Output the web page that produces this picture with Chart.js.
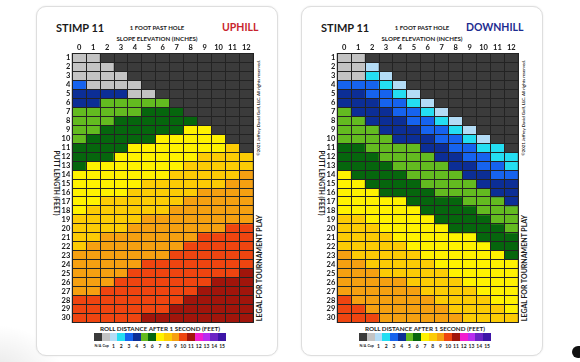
<!DOCTYPE html>
<html>
<head>
<meta charset="utf-8">
<script src="https://cdn.jsdelivr.net/npm/chart.js@4.4.1/dist/chart.umd.min.js"></script>
<style>
html,body{margin:0;padding:0;background:#fff;}
body{width:580px;height:362px;position:relative;overflow:hidden;font-family:Lato,"Open Sans",sans-serif;}
.card{position:absolute;top:6px;width:242px;height:350px;border:1px solid #dedede;border-radius:10px;box-shadow:0 0 2px rgba(0,0,0,.10);background:#fff;box-sizing:border-box;}
.t{position:absolute;white-space:nowrap;font-weight:700;color:#1b1b1b;line-height:1;}
.sw{position:absolute;height:8px;}
.cv{position:absolute;top:40px;width:220px;height:290px;}
.shade{position:absolute;left:-40px;top:320px;width:110px;height:80px;background:radial-gradient(ellipse at 30% 70%,rgba(0,0,0,.10),rgba(0,0,0,0) 65%);}
.blob{position:absolute;left:572px;top:346px;width:12px;height:12px;border-radius:6px 2px 6px 6px;background:#111;}
</style>
</head>
<body>
<div class="shade"></div>
<div class="blob"></div>
<script>
// ---- data ----
const N = -1;   // N/A
const C = 0;    // Cup
const columns = ['0','1','2','3','4','5','6','7','8','9','10','11','12'];
const rows = ['1','2','3','4','5','6','7','8','9','10','11','12','13','14','15','16','17','18','19','20','21','22','23','24','25','26','27','28','29','30'];
const legendLabels = ['N/A','Cup','1','2','3','4','5','6','7','8','9','10','11','12','13','14','15'];
const legendCodes = [N,C,1,2,3,4,5,6,7,8,9,10,11,12,13,14,15];

const uphill = [
 [C,C,N,N,N,N,N,N,N,N,N,N,N],
 [C,C,C,N,N,N,N,N,N,N,N,N,N],
 [C,C,C,C,N,N,N,N,N,N,N,N,N],
 [3,C,C,C,C,N,N,N,N,N,N,N,N],
 [4,4,4,4,C,C,N,N,N,N,N,N,N],
 [4,4,5,5,5,5,5,N,N,N,N,N,N],
 [5,5,5,5,5,6,6,6,N,N,N,N,N],
 [5,5,5,6,6,6,6,6,6,N,N,N,N],
 [5,5,6,6,6,6,6,6,7,7,N,N,N],
 [5,6,6,6,6,6,7,7,7,7,7,N,N],
 [6,6,6,6,7,7,7,7,7,7,7,8,N],
 [6,6,6,7,7,7,7,7,7,8,8,8,8],
 [6,7,7,7,7,7,7,7,8,8,8,8,8],
 [7,7,7,7,7,7,7,8,8,8,8,8,9],
 [7,7,7,7,7,8,8,8,8,8,8,9,9],
 [7,7,7,7,8,8,8,8,8,9,9,9,9],
 [7,7,8,8,8,8,8,8,9,9,9,9,9],
 [7,8,8,8,8,8,8,9,9,9,9,9,9],
 [8,8,8,8,8,9,9,9,9,9,9,9,9],
 [8,8,8,8,9,9,9,9,9,9,9,10,10],
 [8,8,9,9,9,9,9,9,9,10,10,10,10],
 [8,9,9,9,9,9,9,9,10,10,10,10,10],
 [9,9,9,9,9,9,9,10,10,10,10,10,10],
 [9,9,9,9,9,10,10,10,10,10,10,10,10],
 [9,9,9,9,10,10,10,10,10,10,10,10,11],
 [9,9,9,10,10,10,10,10,10,10,11,11,11],
 [9,9,10,10,10,10,10,10,10,11,11,11,11],
 [10,10,10,10,10,10,10,10,11,11,11,11,11],
 [10,10,10,10,10,10,10,11,11,11,11,11,11],
 [10,10,10,10,10,11,11,11,11,11,11,11,11]
];

const downhill = [
 [C,C,N,N,N,N,N,N,N,N,N,N,N],
 [C,C,1,N,N,N,N,N,N,N,N,N,N],
 [C,C,2,1,N,N,N,N,N,N,N,N,N],
 [3,3,3,2,1,N,N,N,N,N,N,N,N],
 [4,4,3,3,2,1,N,N,N,N,N,N,N],
 [4,4,4,3,3,2,1,N,N,N,N,N,N],
 [5,4,4,4,3,3,2,1,N,N,N,N,N],
 [5,5,4,4,4,3,3,2,1,N,N,N,N],
 [5,5,5,4,4,4,3,3,2,1,N,N,N],
 [5,5,5,5,4,4,4,3,3,2,1,N,N],
 [6,6,5,5,5,5,4,4,3,3,2,2,N],
 [6,6,6,5,5,5,5,4,4,3,3,2,2],
 [6,6,6,6,5,5,5,5,4,4,3,3,2],
 [7,6,6,6,6,5,5,5,5,4,4,3,3],
 [7,7,6,6,6,6,5,5,5,5,4,4,4],
 [7,7,7,6,6,6,6,5,5,5,5,4,4],
 [7,7,7,7,7,6,6,6,6,5,5,5,4],
 [7,7,7,7,7,7,6,6,6,6,5,5,5],
 [8,8,7,7,7,7,7,6,6,6,6,5,5],
 [8,8,8,7,7,7,7,7,6,6,6,6,5],
 [8,8,8,8,7,7,7,7,7,7,6,6,6],
 [8,8,8,8,8,7,7,7,7,7,7,6,6],
 [9,8,8,8,8,8,7,7,7,7,7,7,6],
 [9,9,8,8,8,8,8,7,7,7,7,7,7],
 [9,9,9,8,8,8,8,8,7,7,7,7,7],
 [9,9,9,9,9,8,8,8,8,7,7,7,7],
 [9,9,9,9,9,9,8,8,8,8,7,7,7],
 [10,9,9,9,9,9,9,8,8,8,8,7,7],
 [10,10,9,9,9,9,9,9,8,8,8,8,7],
 [10,10,10,9,9,9,9,9,9,8,8,8,8]
];

// ---- styling ----
const COLORS = {
 '-1':'#3b3b3b','0':'#c3c3c3','1':'#b3dcf6','2':'#24def2','3':'#1663ee','4':'#0c2e96',
 '5':'#63bb20','6':'#06660d','7':'#fff200','8':'#fccb05','9':'#f6a011','10':'#ef4510',
 '11':'#a1150b','12':'#f21dcf','13':'#b82cf0','14':'#6b23c5','15':'#3d15a7'
};

function addText(txt, x, y, size, opt) {
  opt = opt || {};
  const d = document.createElement('div');
  d.className = 't';
  d.textContent = txt;
  d.style.left = x + 'px';
  d.style.top = y + 'px';
  d.style.fontSize = size + 'px';
  if (opt.color) d.style.color = opt.color;
  const ax = opt.ax || '-50%';
  d.style.transform = 'translate(' + ax + ',-50%) rotate(' + (opt.rot || 0) + 'deg)';
  document.body.appendChild(d);
}

function buildCard(dx, title, titleColor, grid) {
  const card = document.createElement('div');
  card.className = 'card';
  card.style.left = (36 + dx) + 'px';
  document.body.appendChild(card);

  addText('STIMP 11', 56 + dx, 27, 11, {ax: '0'});
  addText('1 FOOT PAST HOLE', 157 + dx, 27.5, 6);
  addText(title, 258.5 + dx, 27, 10.5, {ax: '-100%', color: titleColor});
  addText('SLOPE ELEVATION (INCHES)', 157 + dx, 38.5, 6.2);
  addText('PUTT LENGTH (FEET)', 57 + dx, 183, 6.6, {rot: 90});
  addText('\u00A92021 Jeffrey David Golf, LLC. All rights reserved.', 259 + dx, 108, 4.3, {rot: -90});
  addText('LEGAL FOR TOURNAMENT PLAY', 259 + dx, 268, 7, {rot: -90});
  addText('ROLL DISTANCE AFTER 1 SECOND (FEET)', 160 + dx, 328.5, 6.3);

  const sw0 = 94 + dx, swW = 7.76;
  legendCodes.forEach((code, i) => {
    const s = document.createElement('div');
    s.className = 'sw';
    s.style.left = (sw0 + i * swW) + 'px';
    s.style.top = '332.5px';
    s.style.width = (swW + 0.3) + 'px';
    s.style.background = COLORS[code];
    document.body.appendChild(s);
    addText(legendLabels[i], sw0 + i * swW + swW / 2, 345.5, i < 2 ? 3.6 : 5);
  });

  const cv = document.createElement('canvas');
  cv.className = 'cv';
  cv.width = 220;
  cv.height = 290;
  cv.style.left = (40 + dx) + 'px';
  document.body.appendChild(cv);

  const lineCol = '#232323';
  new Chart(cv, {
    type: 'bar',
    data: {
      labels: columns,
      datasets: rows.map((r, i) => ({
        label: 'Putt ' + r + ' ft',
        data: columns.map(() => [i, i + 1]),
        backgroundColor: grid[i].map(v => COLORS[v]),
        borderWidth: 0,
        barPercentage: 1,
        categoryPercentage: 1,
        yAxisID: 'y',
        xAxisID: 'x'
      }))
    },
    options: {
      responsive: false,
      maintainAspectRatio: false,
      devicePixelRatio: 1,
      animation: false,
      events: [],
      layout: {padding: {left: 0, top: 0, right: 6.7, bottom: 7.5}},
      plugins: {legend: {display: false}, tooltip: {enabled: false}},
      scales: {
        x: {
          type: 'category', position: 'top', stacked: true, offset: true,
          grid: {display: true, color: lineCol, lineWidth: 1, drawTicks: false, offset: true, z: 1},
          border: {display: true, color: lineCol, width: 1, z: 1},
          ticks: {color: '#151515', padding: 1.5, font: {family: 'Lato', weight: 'bold', size: 7.5}, maxRotation: 0, autoSkip: false},
          afterFit: s => { s.height = 13.5; }
        },
        y: {type: 'linear', reverse: true, min: 0, max: 30, display: false},
        y2: {
          type: 'category', labels: rows, position: 'left', offset: true,
          grid: {display: true, color: lineCol, lineWidth: 1, drawTicks: false, offset: true, z: 1},
          border: {display: true, color: lineCol, width: 1, z: 1},
          ticks: {color: '#151515', padding: 2, font: {family: 'Lato', weight: 'bold', size: 7.5}, autoSkip: false},
          afterFit: s => { s.width = 32.3; }
        }
      }
    },
    plugins: [{
      id: 'frame',
      afterDraw(chart) {
        const a = chart.chartArea, ctx = chart.ctx;
        ctx.save();
        ctx.strokeStyle = lineCol; ctx.lineWidth = 1;
        ctx.strokeRect(a.left, a.top, a.right - a.left, a.bottom - a.top);
        ctx.restore();
      }
    }]
  });
}

buildCard(0, 'UPHILL', '#c8242d', uphill);
buildCard(265, 'DOWNHILL', '#1c2b8f', downhill);
</script>
</body>
</html>
